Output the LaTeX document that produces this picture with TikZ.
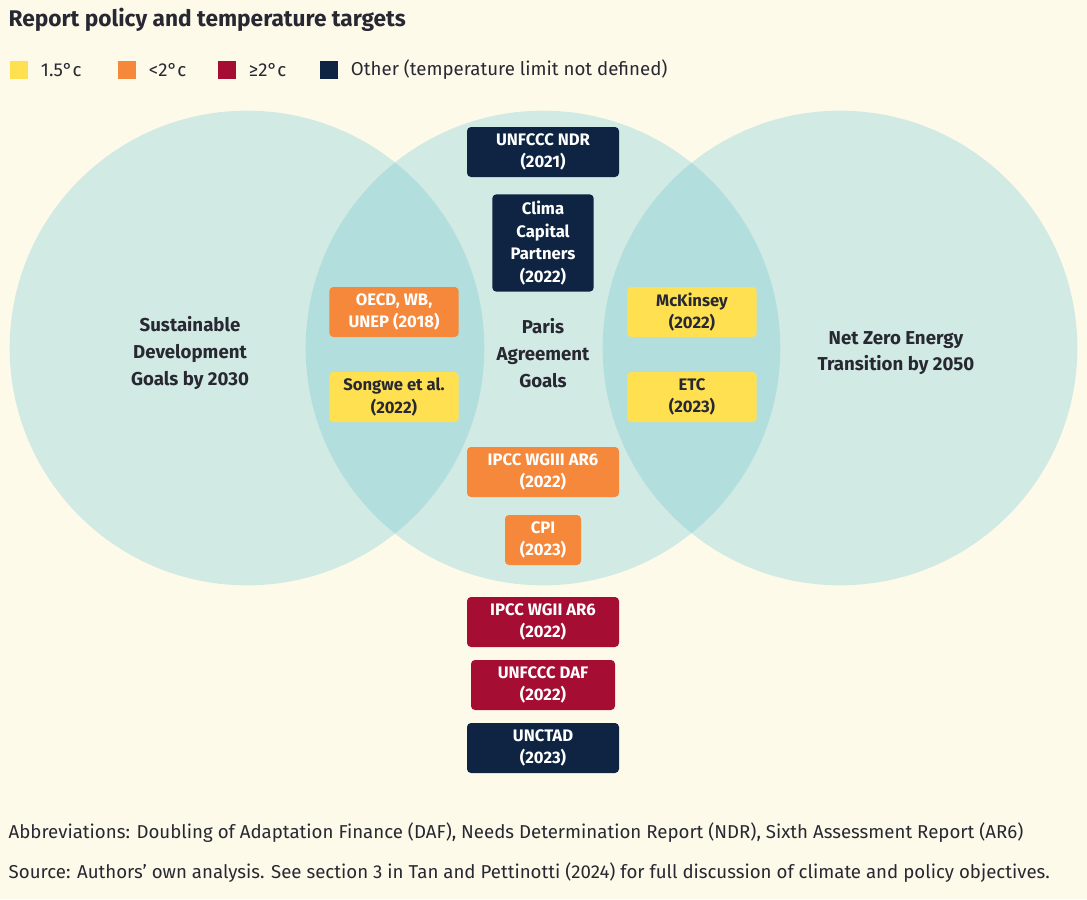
\documentclass[tikz,border=0pt]{standalone}
\usepackage{fontspec}
\setmainfont{Fira Sans}
\usetikzlibrary{positioning}
\definecolor{cream}{RGB}{254,250,234}
\definecolor{venn}{RGB}{110,200,212}
\definecolor{navy}{RGB}{14,36,66}
\definecolor{orng}{RGB}{245,136,58}
\definecolor{yell}{RGB}{255,224,80}
\definecolor{crim}{RGB}{165,13,51}
\definecolor{ink}{RGB}{40,40,50}
\begin{document}
\begin{tikzpicture}[
    x=0.75pt, y=-0.75pt,
    report/.style = {rectangle, rounded corners=3pt, font=\fontsize{12.5}{17}\selectfont\bfseries, align=center, minimum height=37.5pt, inner sep=2pt},
    navyrep/.style = {report, fill=navy, text=white},
    orngrep/.style = {report, fill=orng, text=white},
    yellrep/.style = {report, fill=yell, text=ink},
    crimrep/.style = {report, fill=crim, text=white},
    goal/.style = {font=\fontsize{14}{20}\selectfont\bfseries, text=ink, align=center},
    key/.style = {rectangle, minimum size=13.5pt, inner sep=0pt},
    keytext/.style = {font=\fontsize{14}{16}\selectfont, text=ink, anchor=west},
    note/.style = {font=\fontsize{14}{16}\selectfont, text=ink, anchor=west}
]
\fill[cream] (0,0) rectangle (1087,899);
\useasboundingbox (0,0) rectangle (1087,899);

% Title and legend
\node[anchor=west, font=\fontsize{17}{20}\selectfont\bfseries, text=ink] (title) at (4,20) {Report policy and temperature targets};
\node[key, fill=yell] (k1) at (19,70) {};
\node[keytext, right=6pt of k1] (t1) {1.5°c};
\node[key, fill=orng] (k2) at (127,70) {};
\node[keytext, right=6pt of k2] (t2) {<2°c};
\node[key, fill=crim] (k3) at (227,70) {};
\node[keytext, right=6pt of k3] (t3) {≥2°c};
\node[key, fill=navy] (k4) at (329,70) {};
\node[keytext, right=6pt of k4] (t4) {Other (temperature limit not defined)};

% Circles
\foreach \cx in {247,543,840}
  \fill[venn, fill opacity=0.31] (\cx,348) circle (178pt);

\node[goal] (sdg) at (190,353) {Sustainable\\Development\\Goals by 2030};
\node[goal] (paris) at (543,353) {Paris\\Agreement\\Goals};
\node[goal] (netzero) at (896,353) {Net Zero Energy\\Transition by 2050};

% Reports
\node[navyrep, minimum width=114pt] (ndr) at (543,152) {UNFCCC NDR\\(2021)};
\node[navyrep, minimum width=76pt, minimum height=73pt] (clima) at (543,243) {Clima\\Capital\\Partners\\(2022)};
\node[orngrep, minimum width=97pt] (oecd) at (394,312) {OECD, WB,\\UNEP (2018)};
\node[yellrep, minimum width=97pt] (songwe) at (394,397) {Songwe et al.\\(2022)};
\node[yellrep, minimum width=97pt] (mck) at (692,312) {McKinsey\\(2022)};
\node[yellrep, minimum width=97pt] (etc) at (692,397) {ETC\\(2023)};
\node[orngrep, minimum width=114pt] (wg3) at (543,472) {IPCC WGIII AR6\\(2022)};
\node[orngrep, minimum width=57pt] (cpi) at (543,540) {CPI\\(2023)};
\node[crimrep, minimum width=114pt] (wg2) at (543,622) {IPCC WGII AR6\\(2022)};
\node[crimrep, minimum width=108pt] (daf) at (543,685) {UNFCCC DAF\\(2022)};
\node[navyrep, minimum width=114pt] (unctad) at (543,748) {UNCTAD\\(2023)};

% Notes
\node[note] (abbr) at (4,833) {Abbreviations: Doubling of Adaptation Finance (DAF), Needs Determination Report (NDR), Sixth Assessment Report (AR6)};
\node[note] (src) at (4,873) {Source: Authors’ own analysis. See section 3 in Tan and Pettinotti (2024) for full discussion of climate and policy objectives.};
\end{tikzpicture}
\end{document}
